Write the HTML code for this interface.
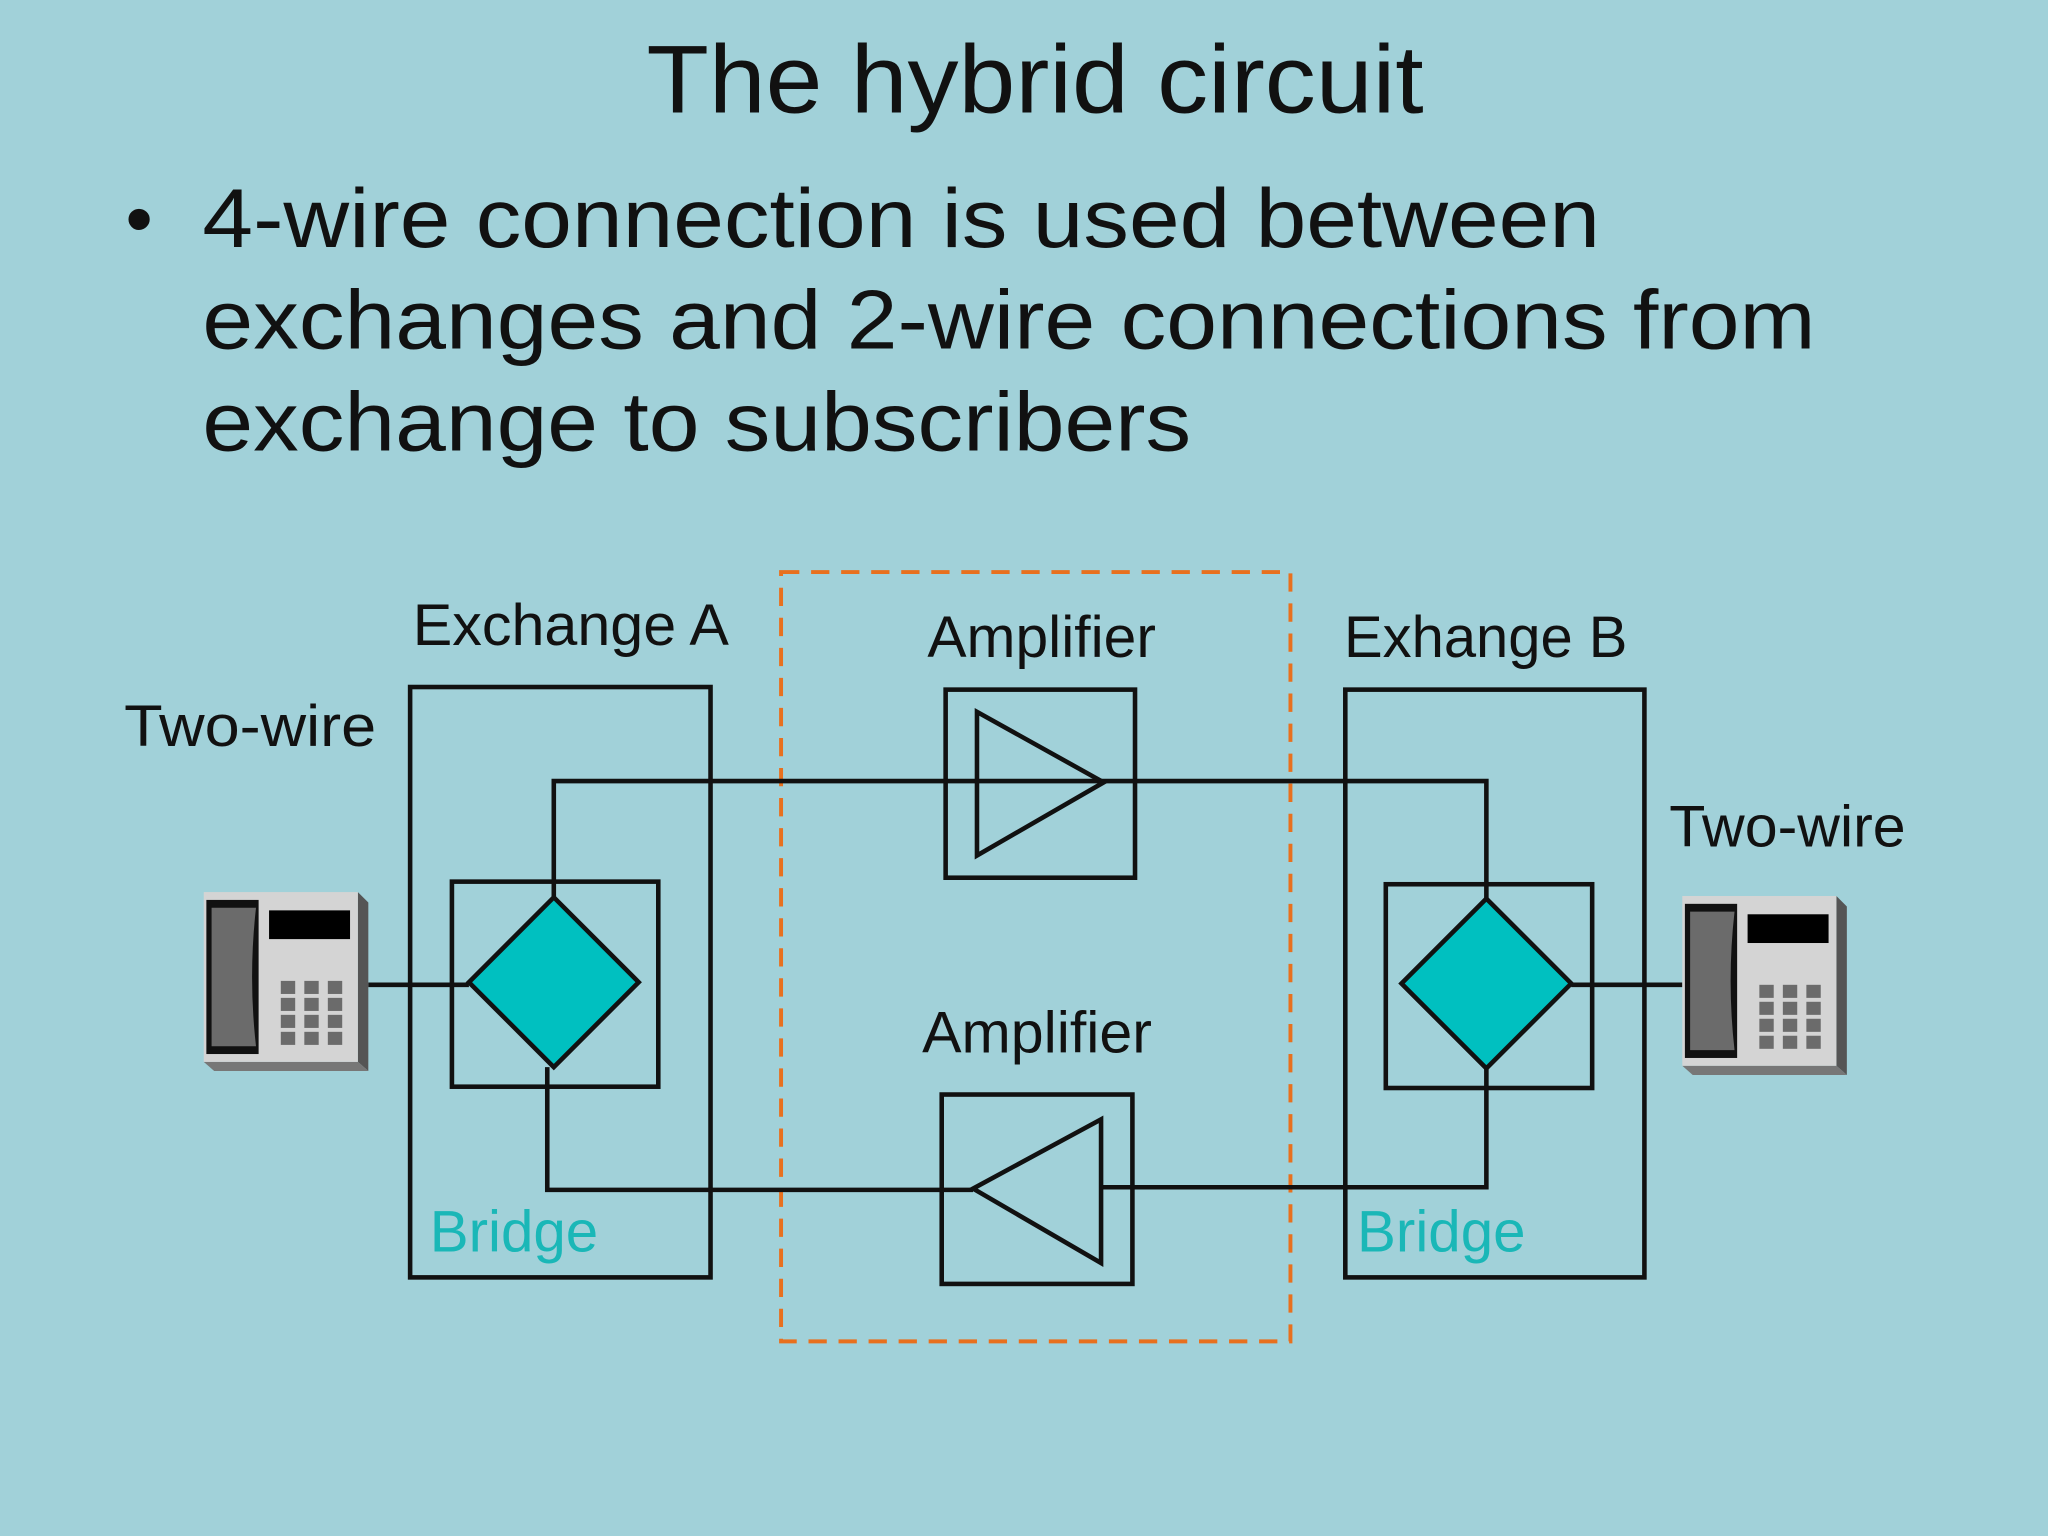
<!DOCTYPE html>
<html><head><style>html,body{margin:0;padding:0;background:#a1d1d9;}svg{display:block}</style></head>
<body>
<svg width="2048" height="1536" viewBox="0 0 1568 1176" xmlns="http://www.w3.org/2000/svg" font-family="Liberation Sans, sans-serif">
<rect width="1568" height="1176" fill="#a1d1d9"/>
<text x="495" y="86" font-size="74" textLength="595" lengthAdjust="spacingAndGlyphs" fill="#111">The hybrid circuit</text>
<text x="96" y="188" font-size="60" fill="#111">•</text>
<text x="155" y="189" font-size="64" textLength="1070" lengthAdjust="spacingAndGlyphs" fill="#111">4-wire connection is used between</text>
<text x="155" y="267" font-size="64" textLength="1235" lengthAdjust="spacingAndGlyphs" fill="#111">exchanges and 2-wire connections from</text>
<text x="155" y="345" font-size="64" textLength="757" lengthAdjust="spacingAndGlyphs" fill="#111">exchange to subscribers</text>

<rect x="598" y="438" width="390" height="589" fill="none" stroke="#e8701e" stroke-width="3" stroke-dasharray="14,9"/>

<g fill="none" stroke="#111" stroke-width="3.5">
<rect x="314" y="526" width="230" height="452"/>
<rect x="1030" y="528" width="229" height="450"/>
<rect x="346" y="675" width="158" height="157"/>
<rect x="1061" y="677" width="158" height="156"/>
<rect x="724" y="528" width="145" height="144"/>
<rect x="721" y="838" width="146" height="145"/>
<polyline points="424,687 424,598 1138,598 1138,688"/>
<polyline points="419,817 419,911 745,911"/>
<polyline points="843,909 1138,909 1138,818"/>
<line x1="282" y1="754" x2="359" y2="754"/>
<line x1="1203" y1="754" x2="1288" y2="754"/>
<polygon points="748,545 845,599 748,655"/>
<polygon points="843,857 745,910 843,967"/>
<polygon points="424,687 489,752 424,817 359,752" fill="#00c0c0"/>
<polygon points="1138,688 1203,753 1138,818 1073,753" fill="#00c0c0"/>
</g>

<g font-size="45" fill="#111" lengthAdjust="spacingAndGlyphs">
<text x="316" y="494" textLength="242" lengthAdjust="spacingAndGlyphs">Exchange A</text>
<text x="710" y="503" textLength="175" lengthAdjust="spacingAndGlyphs">Amplifier</text>
<text x="1029" y="503" textLength="217" lengthAdjust="spacingAndGlyphs">Exhange B</text>
<text x="95" y="571" textLength="193" lengthAdjust="spacingAndGlyphs">Two-wire</text>
<text x="1278" y="648" textLength="181" lengthAdjust="spacingAndGlyphs">Two-wire</text>
<text x="706" y="806" textLength="176" lengthAdjust="spacingAndGlyphs">Amplifier</text>
</g>
<text x="329" y="958" font-size="45" textLength="129" lengthAdjust="spacingAndGlyphs" fill="#1ab7b7">Bridge</text>
<text x="1039" y="958" font-size="45" textLength="129" lengthAdjust="spacingAndGlyphs" fill="#1ab7b7">Bridge</text>

<defs>
<g id="ph">
<polygon points="118,0 126,8 126,137 118,130" fill="#555"/>
<polygon points="0,130 118,130 126,137 8,137" fill="#777"/>
<rect x="0" y="0" width="118" height="130" fill="#d4d4d4"/>
<rect x="2" y="6" width="40" height="118" fill="#111"/>
<path d="M6,12 L40,12 Q34,65 40,118 L6,118 Z" fill="#6b6b6b"/>
<rect x="50" y="14" width="62" height="22" fill="#000"/>
<g fill="#6b6b6b">
<rect x="59" y="68" width="11" height="10"/><rect x="77" y="68" width="11" height="10"/><rect x="95" y="68" width="11" height="10"/>
<rect x="59" y="81" width="11" height="10"/><rect x="77" y="81" width="11" height="10"/><rect x="95" y="81" width="11" height="10"/>
<rect x="59" y="94" width="11" height="10"/><rect x="77" y="94" width="11" height="10"/><rect x="95" y="94" width="11" height="10"/>
<rect x="59" y="107" width="11" height="10"/><rect x="77" y="107" width="11" height="10"/><rect x="95" y="107" width="11" height="10"/>
</g>
</g>
</defs>
<use href="#ph" x="156" y="683"/>
<use href="#ph" x="1288" y="686"/>
</svg>
</body></html>
